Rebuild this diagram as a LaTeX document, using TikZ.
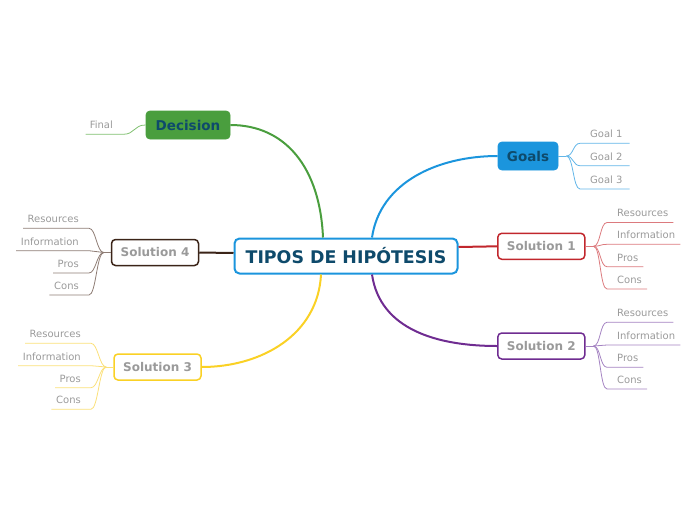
\documentclass[tikz,border=0pt]{standalone}
\usepackage{fontspec}
\setmainfont{DejaVu Sans}
\usetikzlibrary{calc}
\definecolor{navy}{HTML}{0E4A6B}
\definecolor{cblue}{HTML}{1B95DD}
\definecolor{cgreen}{HTML}{4A9E3E}
\definecolor{cred}{HTML}{C1272D}
\definecolor{cpurple}{HTML}{6F2C91}
\definecolor{cyellow}{HTML}{FAD125}
\definecolor{cbrown}{HTML}{3B2418}
\definecolor{lblue}{HTML}{62B6E8}
\definecolor{lgreen}{HTML}{80C070}
\definecolor{lred}{HTML}{DC7A7E}
\definecolor{lpurple}{HTML}{A483C2}
\definecolor{lyellow}{HTML}{FBE07A}
\definecolor{lbrown}{HTML}{8E7C74}
\definecolor{greytext}{HTML}{9A9A9A}
\begin{document}
\begin{tikzpicture}[x=1pt,y=-1pt,
  topic/.style={rounded corners=4pt, inner sep=0pt, line width=1.5pt, fill=white,
    text=greytext, font=\bfseries\fontsize{12}{14}\selectfont,
    minimum width=87pt, minimum height=26pt},
  sub/.style={inner sep=0pt, text depth=5.5pt, text height=7.5pt, text=greytext,
    font=\fontsize{10}{12}\selectfont},
  mainline/.style={line width=2pt},
  branch/.style={line width=0.8pt}]
\useasboundingbox (0,0) rectangle (696,520);

% main nodes
\node[draw=cblue, line width=2pt, rounded corners=5pt, minimum width=223pt,
  minimum height=35pt, inner sep=0pt, fill=white, text=navy,
  font=\bfseries\fontsize{17.4}{20}\selectfont] (center) at (346,256) {TIPOS DE HIPÓTESIS};
\node[topic, draw=cblue, fill=cblue, text=navy, line width=0.8pt,
  font=\bfseries\fontsize{13.5}{15}\selectfont, minimum width=60pt, minimum height=28pt] (goals) at (528,156) {Goals};
\node[topic, draw=cgreen, fill=cgreen, text=navy, line width=0.8pt,
  font=\bfseries\fontsize{13.5}{15}\selectfont, minimum width=84pt, minimum height=28pt] (decision) at (188,125) {Decision};
\node[topic, draw=cred] (sol1) at (541.3,246.3) {Solution 1};
\node[topic, draw=cpurple] (sol2) at (541.3,346) {Solution 2};
\node[topic, draw=cyellow] (sol3) at (157.5,367) {Solution 3};
\node[topic, draw=cbrown] (sol4) at (155,252.5) {Solution 4};

% main connectors
\draw[mainline, cblue] ([xshift=26pt]center.north) .. controls +(8,-55) and +(-60,0) .. (goals.west);
\draw[mainline, cgreen] ([xshift=-23pt]center.north) .. controls +(-3,-70) and +(55,0) .. (decision.east);
\draw[mainline, cyellow] ([xshift=-25pt]center.south) .. controls +(-3,60) and +(60,0) .. (sol3.east);
\draw[mainline, cpurple] ([xshift=26pt]center.south) .. controls +(8,55) and +(-60,0) .. (sol2.west);
\draw[mainline, cred] ([yshift=9pt]center.east) .. controls +(20,0) and +(-20,0) .. (sol1.west);
\draw[mainline, cbrown] ([yshift=3pt]center.west) -- (sol4.east);

% Goals subtopics
\node[sub, anchor=south west] (g1) at (590,143.3) {Goal 1};
\node[sub, anchor=south west] (g2) at (590,165.7) {Goal 2};
\node[sub, anchor=south west] (g3) at (590,189) {Goal 3};
\coordinate (jg) at ([xshift=8pt]goals.east);
\draw[branch, lblue] (goals.east) -- (jg);
\foreach \n in {g1,g2,g3}{
  \draw[branch, lblue] (jg) .. controls +(7,0) and +(-7,0) .. ([xshift=-10pt]\n.south west) -- ([xshift=7pt]\n.south east);
}

% Solution 1 subtopics
\node[sub, anchor=south west] (a1) at (617,222.5) {Resources};
\node[sub, anchor=south west] (a2) at (617,244.3) {Information};
\node[sub, anchor=south west] (a3) at (617,266.7) {Pros};
\node[sub, anchor=south west] (a4) at (617,289) {Cons};
\coordinate (j1) at ([xshift=8pt]sol1.east);
\draw[branch, lred] (sol1.east) -- (j1);
\foreach \n in {a1,a2,a3,a4}{
  \draw[branch, lred] (j1) .. controls +(7,0) and +(-7,0) .. ([xshift=-10pt]\n.south west) -- ([xshift=5pt]\n.south east);
}

% Solution 2 subtopics
\node[sub, anchor=south west] (b1) at (617,322.3) {Resources};
\node[sub, anchor=south west] (b2) at (617,345) {Information};
\node[sub, anchor=south west] (b3) at (617,367.3) {Pros};
\node[sub, anchor=south west] (b4) at (617,389) {Cons};
\coordinate (j2) at ([xshift=8pt]sol2.east);
\draw[branch, lpurple] (sol2.east) -- (j2);
\foreach \n in {b1,b2,b3,b4}{
  \draw[branch, lpurple] (j2) .. controls +(7,0) and +(-7,0) .. ([xshift=-10pt]\n.south west) -- ([xshift=5pt]\n.south east);
}

% Solution 4 subtopics
\node[sub, anchor=south east] (d1) at (79,228.3) {Resources};
\node[sub, anchor=south east] (d2) at (79,250.7) {Information};
\node[sub, anchor=south east] (d3) at (79,273) {Pros};
\node[sub, anchor=south east] (d4) at (79,295) {Cons};
\coordinate (j4) at ([xshift=-7pt]sol4.west);
\draw[branch, lbrown] (sol4.west) -- (j4);
\foreach \n in {d1,d2,d3,d4}{
  \draw[branch, lbrown] (j4) .. controls +(-7,0) and +(7,0) .. ([xshift=10pt]\n.south east) -- ([xshift=-4.5pt]\n.south west);
}

% Solution 3 subtopics
\node[sub, anchor=south east] (c1) at (81,343.3) {Resources};
\node[sub, anchor=south east] (c2) at (81,365.7) {Information};
\node[sub, anchor=south east] (c3) at (81,387.7) {Pros};
\node[sub, anchor=south east] (c4) at (81,409.3) {Cons};
\coordinate (j3) at ([xshift=-7pt]sol3.west);
\draw[branch, lyellow] (sol3.west) -- (j3);
\foreach \n in {c1,c2,c3,c4}{
  \draw[branch, lyellow] (j3) .. controls +(-7,0) and +(7,0) .. ([xshift=10pt]\n.south east) -- ([xshift=-4.5pt]\n.south west);
}

% Decision subtopic
\node[sub, anchor=south east] (f1) at (113,134.3) {Final};
\draw[branch, lgreen] (decision.west) .. controls +(-12,0) and +(12,0) .. ([xshift=10pt]f1.south east) -- ([xshift=-4pt]f1.south west);
\end{tikzpicture}
\end{document}
